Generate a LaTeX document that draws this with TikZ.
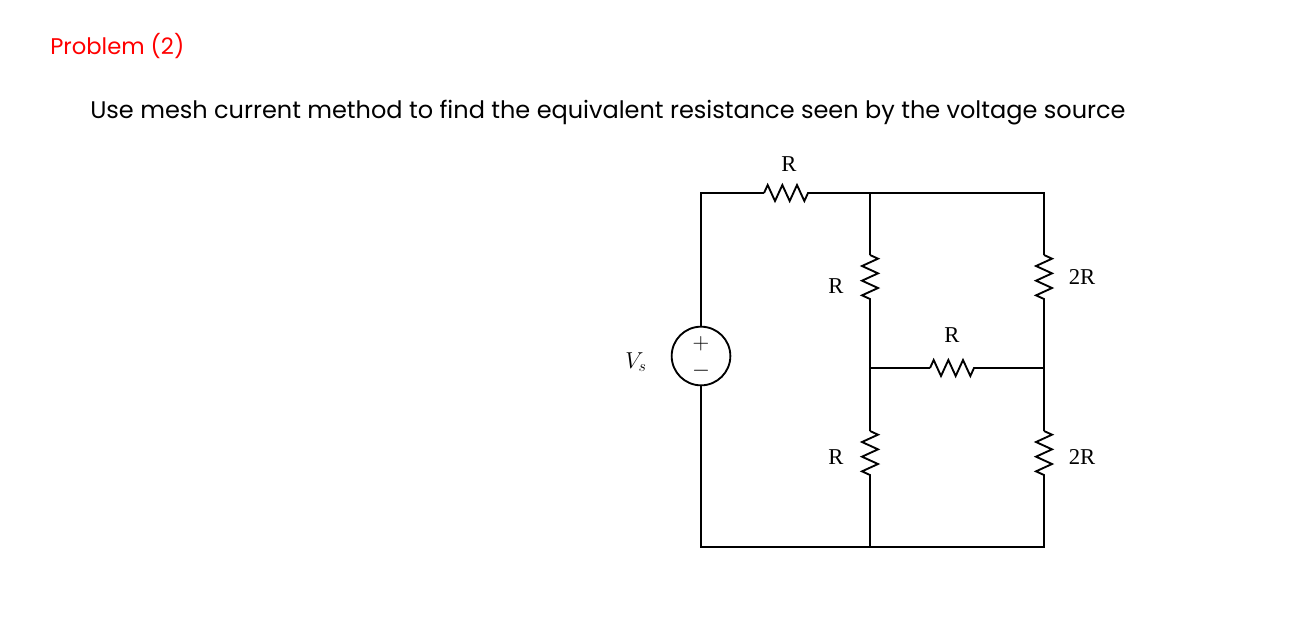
\documentclass[tikz,border=0pt]{standalone}
\usepackage{fontspec}
\setmainfont{Liberation Serif}
\newfontfamily\titlefont{Poppins}
\usetikzlibrary{decorations.pathmorphing}
\begin{document}
\begin{tikzpicture}[x=0.75pt,y=-0.75pt,line width=1.4pt]
    \tikzstyle{every node}=[inner sep=1pt]
    \tikzstyle{res}=[decorate,decoration={zigzag,segment length=11pt,amplitude=6pt}]
    \tikzstyle{lbl}=[font=\fontsize{17pt}{19pt}\selectfont]
    \useasboundingbox (0,0) rectangle (1294,619);
    \node[anchor=west,text=red,font=\titlefont\fontsize{17pt}{20pt}\selectfont] (title) at (48,46) {Problem (2)};
    \node[anchor=west,font=\titlefont\fontsize{18pt}{21pt}\selectfont] (task) at (88,113) {Use mesh current method to find the equivalent resistance seen by the voltage source};
    % corners
    \coordinate (tl) at (701,193);
    \coordinate (tm) at (870,193);
    \coordinate (tr) at (1044,193);
    \coordinate (bl) at (701,547);
    \coordinate (bm) at (870,547);
    \coordinate (br) at (1044,547);
    \coordinate (mm) at (870,368);
    \coordinate (mr) at (1044,368);
    % source
    \node[circle,draw,minimum size=44pt] (vs) at (701,356) {};
    \node[font=\fontsize{16pt}{18pt}\selectfont] (plus) at (701,344) {$+$};
    \node[font=\fontsize{16pt}{18pt}\selectfont] (minus) at (701,371) {$-$};
    \node[lbl] (vslbl) at (636,362) {$V_s$};
    % resistor ends
    \coordinate (r1a) at (764,193); \coordinate (r1b) at (812,193);
    \coordinate (r2a) at (870,255); \coordinate (r2b) at (870,304);
    \coordinate (r3a) at (870,431); \coordinate (r3b) at (870,480);
    \coordinate (r4a) at (930,368); \coordinate (r4b) at (979,368);
    \coordinate (r5a) at (1044,255); \coordinate (r5b) at (1044,304);
    \coordinate (r6a) at (1044,431); \coordinate (r6b) at (1044,480);
    % wires
    \draw (vs) -- (tl) -- (r1a);
    \draw[res] (r1a) -- (r1b);
    \draw (r1b) -- (tm) -- (tr) -- (r5a);
    \draw[res] (r5a) -- (r5b);
    \draw (r5b) -- (mr) -- (r6a);
    \draw[res] (r6a) -- (r6b);
    \draw (r6b) -- (br) -- (bm) -- (bl) -- (vs);
    \draw (tm) -- (r2a);
    \draw[res] (r2a) -- (r2b);
    \draw (r2b) -- (mm) -- (r3a);
    \draw[res] (r3a) -- (r3b);
    \draw (r3b) -- (bm);
    \draw (mm) -- (r4a);
    \draw[res] (r4a) -- (r4b);
    \draw (r4b) -- (mr);
    % labels
    \node[lbl] (l1) at (789,164) {R};
    \node[lbl] (l2) at (836,286) {R};
    \node[lbl] (l3) at (836,457) {R};
    \node[lbl] (l4) at (952,335) {R};
    \node[lbl] (l5) at (1082,277) {2R};
    \node[lbl] (l6) at (1082,457) {2R};
\end{tikzpicture}
\end{document}
